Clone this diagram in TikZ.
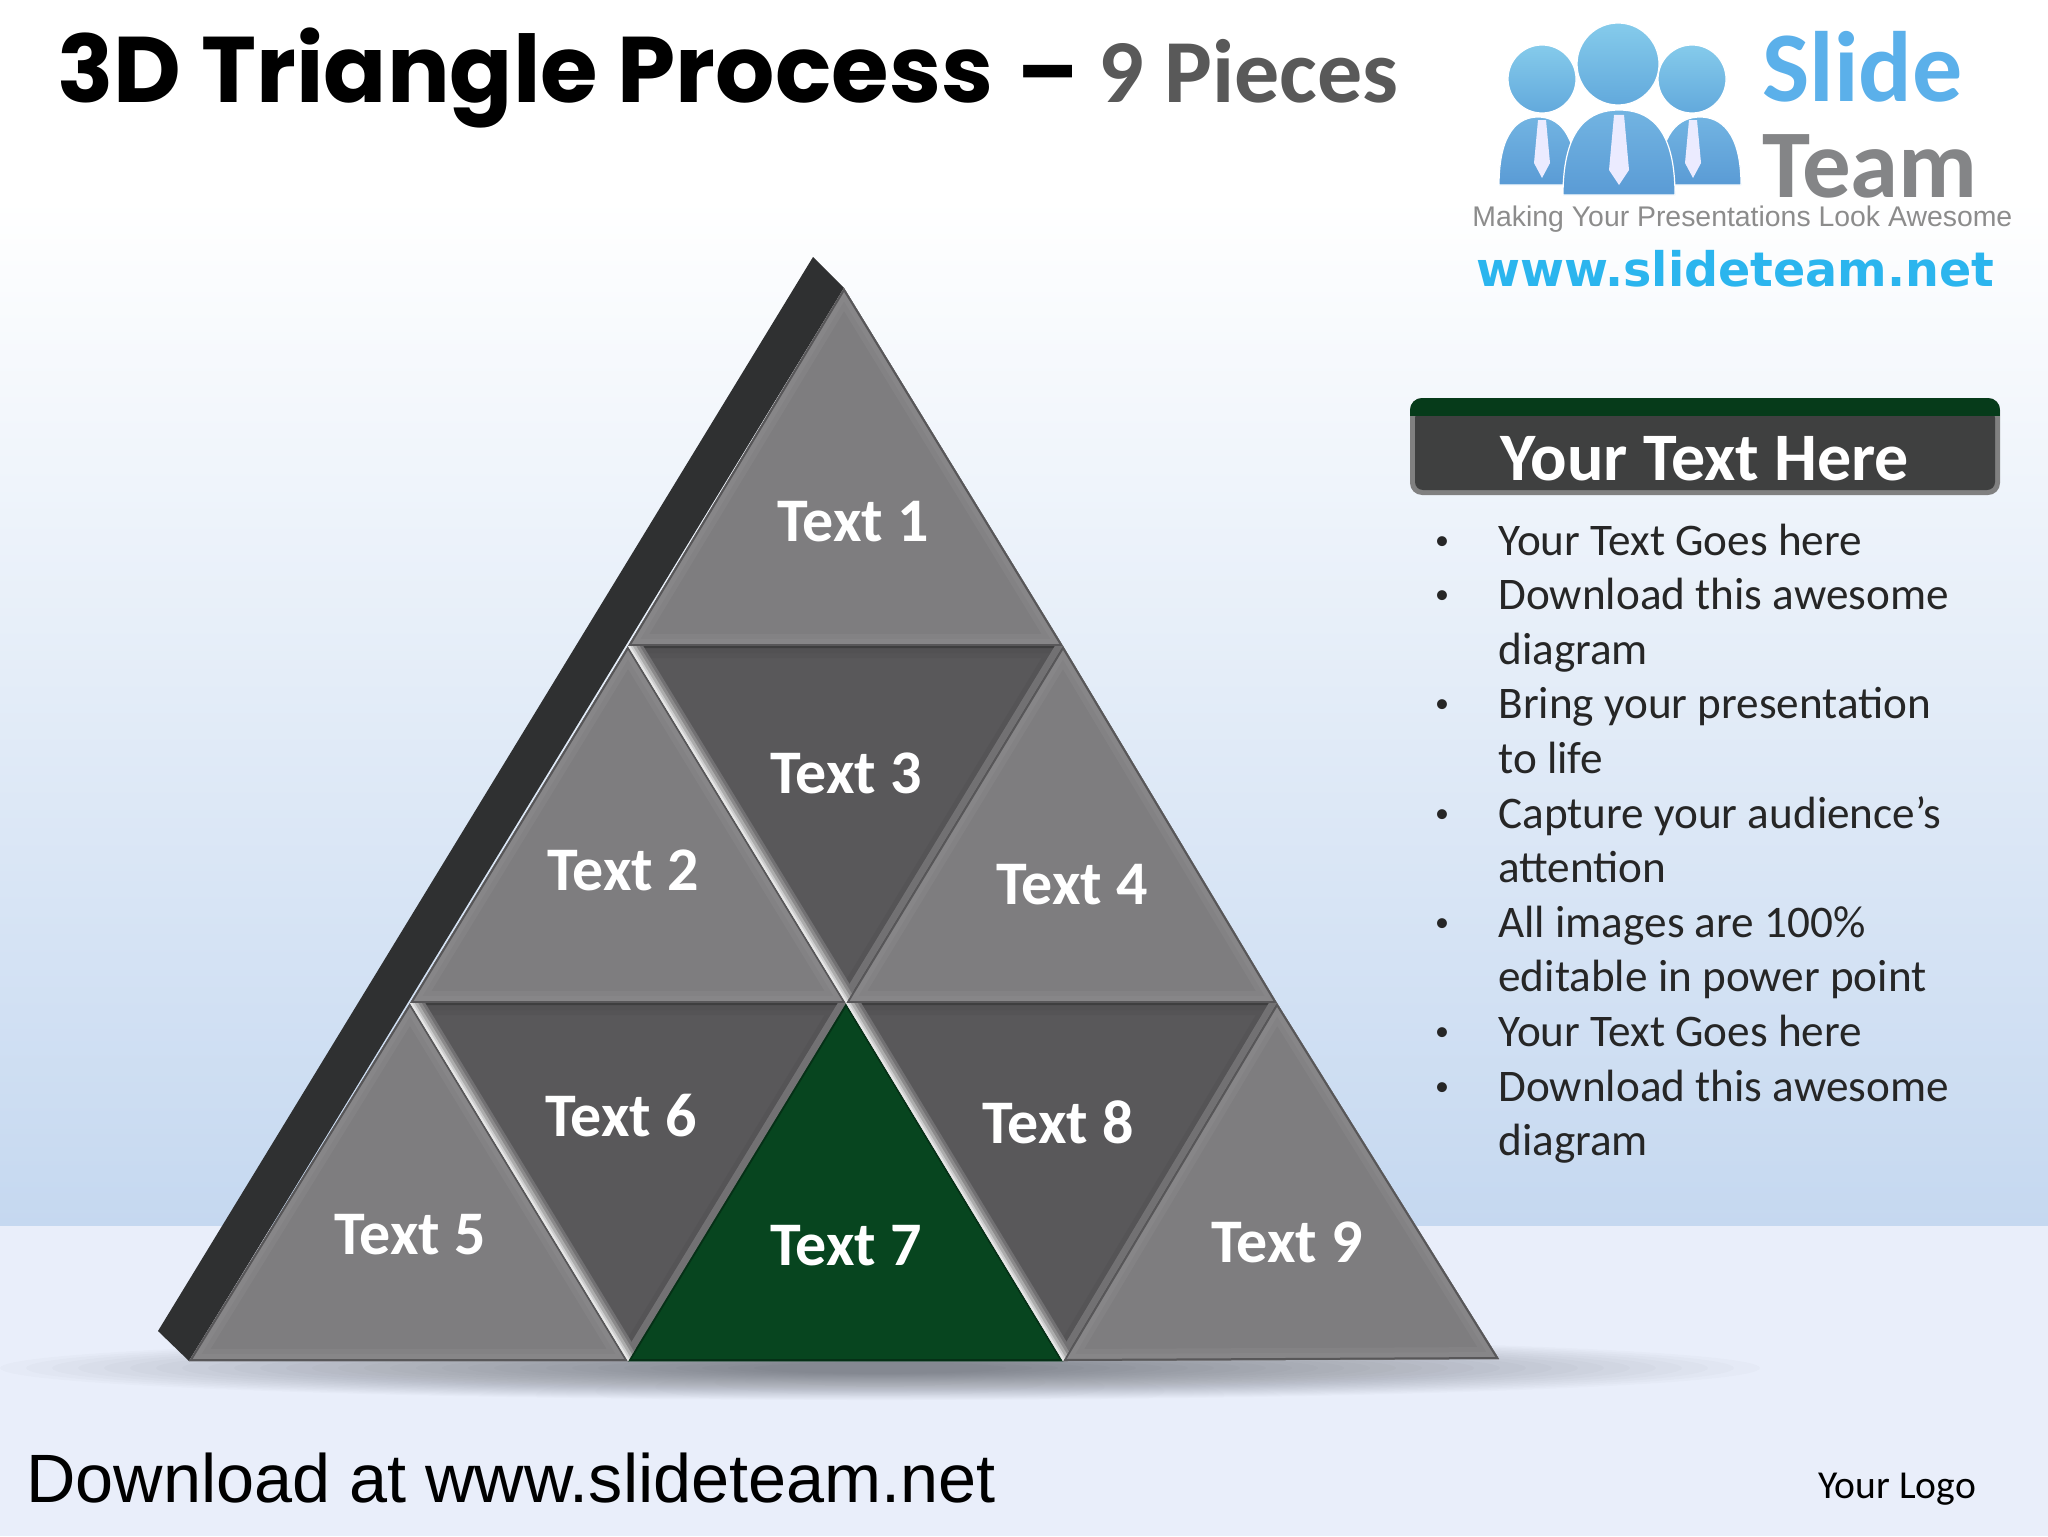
\documentclass[tikz,border=0pt]{standalone}
\usepackage{fontspec}
\setmainfont{Carlito}
\newfontfamily\titlefont{Poppins}
\newfontfamily\arialfont{Liberation Sans}
\newfontfamily\urlfont{DejaVu Sans}
\definecolor{lightpiece}{HTML}{7E7D7F}
\definecolor{darkpiece}{HTML}{59585A}
\definecolor{greenpiece}{HTML}{07451F}
\definecolor{sidestrip}{HTML}{2F3031}
\definecolor{wallblue}{HTML}{C5D8F0}
\definecolor{floorblue}{HTML}{E9EEFA}
\definecolor{panelgray}{HTML}{3F4040}
\definecolor{slideblue}{HTML}{5BB0EA}
\definecolor{teamgray}{HTML}{848587}
\definecolor{urlcyan}{HTML}{2BB5EE}
\definecolor{headtop}{HTML}{85CBEB}
\definecolor{headlow}{HTML}{62A9DC}
\definecolor{bodytop}{HTML}{72B4E2}
\definecolor{bodylow}{HTML}{5A9BD5}
\tikzset{
	piecelabel/.style={text=white, font=\bfseries\fontsize{31}{36}\selectfont},
	listline/.style={anchor=base west, font=\fontsize{22.6}{26}\selectfont, text=black!85},
	listdot/.style={anchor=base, font=\fontsize{14}{16}\selectfont, text=black!85},
}
% one bevelled triangle of the pyramid
\newcommand{\tripiece}[5]{
	\fill[#4] (#1)--(#2)--(#3)--cycle;
	\begin{scope}
		\clip (#1)--(#2)--(#3)--cycle;
		\draw[#5!50!#4, line width=12] (#1)--(#2)--(#3)--cycle;
		\draw[#5, line width=7] (#1)--(#2)--(#3)--cycle;
		\draw[black!30!#4, line width=2] (#1)--(#2)--(#3)--cycle;
	\end{scope}
}
% white edge down the left side of a dark piece
\newcommand{\glint}[3]{
	\begin{scope}
		\clip (#1)--(#2)--(#3)--cycle;
		\draw[darkpiece!85!white, line width=7] (#2)--(#3);
		\foreach \w/\m in {13/15, 10/30, 7/50, 4/70, 2/85}{
			\draw[white!\m!darkpiece, line width=\w] (#1)--(#2);
		}
	\end{scope}
}
\begin{document}
\begin{tikzpicture}[x=0.5pt, y=-0.5pt]
	\useasboundingbox (0,0) rectangle (2048,1536);
	%wall and floor
	\fill[white] (0,0) rectangle (2048,200);
	\shade[top color=white, bottom color=wallblue] (0,199) rectangle (2048,1226);
	\fill[floorblue] (0,1226) rectangle (2048,1536);
	
	%shadow under the pyramid
	\foreach \k in {0,1,...,29}{
		\fill[black, opacity=0.015] (880,1368) ellipse ({880-26*\k} and {32-0.9*\k});
	}
	
	%corners of the pieces
	\coordinate (apex) at (844,288);
	\coordinate (b1) at (628,646);
	\coordinate (b2) at (1063,646);
	\coordinate (c1) at (410,1003);
	\coordinate (c2) at (846,1003);
	\coordinate (c3) at (1277,1003);
	\coordinate (d1) at (189,1361);
	\coordinate (d2) at (628,1361);
	\coordinate (d3) at (1063,1361);
	\coordinate (d4) at (1499,1359);
	\coordinate (stripTop) at (813,257);
	\coordinate (stripLow) at (158,1331);
	
	%left side
	\fill[sidestrip] (stripTop)--(apex)--(d1)--(stripLow)--cycle;
	
	%pieces
	\tripiece{apex}{b1}{b2}{lightpiece}{lightpiece!93!white}
	\tripiece{b1}{c1}{c2}{lightpiece}{lightpiece!93!white}
	\tripiece{b2}{c2}{c3}{lightpiece}{lightpiece!93!white}
	\tripiece{c1}{d1}{d2}{lightpiece}{lightpiece!93!white}
	\tripiece{c3}{d3}{d4}{lightpiece}{lightpiece!93!white}
	\tripiece{b1}{b2}{c2}{darkpiece}{darkpiece!92!black}
	\tripiece{c1}{c2}{d2}{darkpiece}{darkpiece!92!black}
	\tripiece{c2}{c3}{d3}{darkpiece}{darkpiece!92!black}
	\tripiece{c2}{d2}{d3}{greenpiece}{greenpiece}
	\glint{b1}{c2}{b2}
	\glint{c1}{d2}{c2}
	\glint{c2}{d3}{c3}
	
	%labels of the pieces
	\foreach \n/\x/\y in {1/853/522, 2/623/870, 3/846/773, 4/1072/885, 5/410/1235, 6/621/1116, 7/846/1246, 8/1058/1122, 9/1287/1242}{
		\node[piecelabel] (text\n) at (\x,\y) {Text \n};
	}
	
	%title
	\node[anchor=base west, inner sep=0pt, font=\titlefont\bfseries\fontsize{46.6}{56}\selectfont] (title) at (57,103) {3D Triangle Process};
	\node[anchor=base west, inner sep=0pt, font=\titlefont\bfseries\fontsize{44}{56}\selectfont] (dash) at (1017,103) {–};
	\node[anchor=base west, inner sep=0pt, text=black!65, font=\bfseries\fontsize{45}{54}\selectfont] (pieces) at (1098,103) {9 Pieces};
	
	%logo people
	\foreach \cx/\hw/\tp/\bt in {1538/39/117/185, 1700/41/117/185, 1619/56/110/195}{
		\shade[top color=bodytop, bottom color=bodylow, draw=white, line width=0.6]
			(\cx-\hw,\bt) .. controls (\cx-\hw,\tp+15) and (\cx-\hw/2,\tp) .. (\cx,\tp)
			.. controls (\cx+\hw/2,\tp) and (\cx+\hw,\tp+15) .. (\cx+\hw,\bt) -- cycle;
	}
	\foreach \cx/\cy/\r in {1542/79/34, 1692/79/34, 1618/64/41}{
		\shade[top color=headtop, bottom color=headlow, draw=white, line width=0.6] (\cx,\cy) circle (\r);
	}
	\foreach \cx/\hw/\tp/\bt in {1542/8/120/178, 1693/8/120/178, 1619/10/115/185}{
		\fill[white!92!blue] (\cx-\hw/2,\tp) -- (\cx+\hw/2,\tp) -- (\cx+\hw,\bt-15) -- (\cx,\bt) -- (\cx-\hw,\bt-15) -- cycle;
	}
	
	%logo text
	\node[anchor=base west, inner sep=0pt, text=slideblue, font=\bfseries\fontsize{50}{60}\selectfont] (slide) at (1762,102) {Slide};
	\node[anchor=base west, inner sep=0pt, text=teamgray, font=\bfseries\fontsize{48.5}{56}\selectfont] (team) at (1762,197) {Team};
	\node[anchor=base west, inner sep=0pt, text=black!45, font=\arialfont\fontsize{14.2}{17}\selectfont] (making) at (1472,226) {Making Your Presentations Look Awesome};
	\node[anchor=base west, inner sep=0pt, text=urlcyan, font=\urlfont\bfseries\fontsize{23.8}{26}\selectfont] (site) at (1476,286) {www.slideteam.net};
	
	%panel
	\fill[black!50, rounded corners=6] (1410,398) rectangle (2000,495);
	\fill[panelgray, rounded corners=4] (1415,410) rectangle (1995,490);
	\begin{scope}
		\clip[rounded corners=6] (1410,398) rectangle (2000,495);
		\fill[greenpiece!85!black] (1410,398) rectangle (2000,416);
	\end{scope}
	\node[text=white, font=\bfseries\fontsize{34}{38}\selectfont] (head) at (1705,459) {Your Text Here};
	
	%list on the right
	\foreach \i/\line in {0/Your Text Goes here, 1/Download this awesome, 2/diagram, 3/Bring your presentation, 4/to life, 5/Capture your audience’s, 6/attention, 7/All images are 100\%, 8/editable in power point, 9/Your Text Goes here, 10/Download this awesome, 11/diagram}{
		\node[listline, inner sep=0pt] (line\i) at (1498,{555+54.6*\i}) {\line};
	}
	\foreach \i in {0,1,3,5,7,9,10}{
		\node[listdot, inner sep=0pt] (dot\i) at (1442,{549+54.6*\i}) {\textbullet};
	}
	
	%footer
	\node[anchor=base west, inner sep=0pt, font=\arialfont\fontsize{34.2}{40}\selectfont] (download) at (26,1502) {Download at www.slideteam.net};
	\node[anchor=base west, inner sep=0pt, font=\fontsize{19.8}{23}\selectfont] (yourlogo) at (1818,1498) {Your Logo};
\end{tikzpicture}
\end{document}
